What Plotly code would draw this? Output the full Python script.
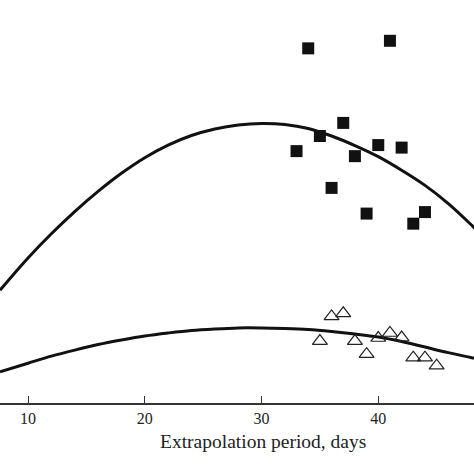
import plotly.graph_objects as go

# Measured data (days, value in arbitrary units)
square_days = [33, 34, 35, 36, 37, 38, 39, 40, 41, 42, 43, 44]
square_vals = [0.500, 0.704, 0.530, 0.427, 0.556, 0.490, 0.376, 0.512, 0.719, 0.507, 0.356, 0.379]

tri_days = [35, 36, 37, 38, 39, 40, 41, 42, 43, 44, 45]
tri_vals = [0.123, 0.172, 0.178, 0.123, 0.097, 0.129, 0.139, 0.130, 0.090, 0.090, 0.074]

curve_days = [7.6, 10, 12, 14, 16, 18, 20, 22, 24, 26, 28, 30, 32, 34, 36, 38, 40, 42, 44, 46, 48, 48.3]
upper_curve = [0.224, 0.288, 0.336, 0.380, 0.420, 0.456, 0.487, 0.512, 0.531, 0.544, 0.552, 0.555,
               0.553, 0.545, 0.530, 0.511, 0.489, 0.462, 0.432, 0.396, 0.353, 0.346]
lower_curve = [0.062, 0.079, 0.093, 0.105, 0.116, 0.125, 0.133, 0.139, 0.144, 0.147, 0.149, 0.149,
               0.148, 0.146, 0.142, 0.137, 0.131, 0.122, 0.111, 0.100, 0.090, 0.089]

x_ticks = [10, 20, 30, 40]
x_title = "Extrapolation period, days"

fig = go.Figure()
fig.add_trace(go.Scatter(x=curve_days, y=upper_curve, mode="lines",
                         line=dict(color="#111111", width=3, shape="spline"), hoverinfo="skip"))
fig.add_trace(go.Scatter(x=curve_days, y=lower_curve, mode="lines",
                         line=dict(color="#111111", width=3, shape="spline"), hoverinfo="skip"))
fig.add_trace(go.Scatter(x=square_days, y=square_vals, mode="markers",
                         marker=dict(symbol="square", size=12, color="#111111",
                                     line=dict(width=0))))
fig.add_trace(go.Scatter(x=tri_days, y=tri_vals, mode="markers",
                         marker=dict(symbol="triangle-up-open", size=13, color="#222222",
                                     line=dict(width=1.2, color="#222222"))))

fig.update_layout(
    width=474, height=474,
    margin=dict(l=0, r=0, t=0, b=71),
    paper_bgcolor="white", plot_bgcolor="white",
    showlegend=False,
    font=dict(family="Liberation Serif", color="#222222"),
    xaxis=dict(range=[7.6, 48.2], tickvals=x_ticks, ticktext=[str(t) for t in x_ticks],
               showline=True, linecolor="#333333", linewidth=1.5,
               ticks="inside", ticklen=7, tickwidth=1.2, tickcolor="#333333",
               showgrid=False, zeroline=False, tickfont=dict(size=16, family="Liberation Serif")),
    yaxis=dict(range=[0, 0.8], visible=False),
    annotations=[dict(text=x_title, x=30.15, xref="x", y=-0.095, yref="paper",
                      xanchor="center", yanchor="middle", showarrow=False,
                      font=dict(size=19.5, family="Liberation Serif", color="#222222"))],
)

fig.write_html("out.html")
